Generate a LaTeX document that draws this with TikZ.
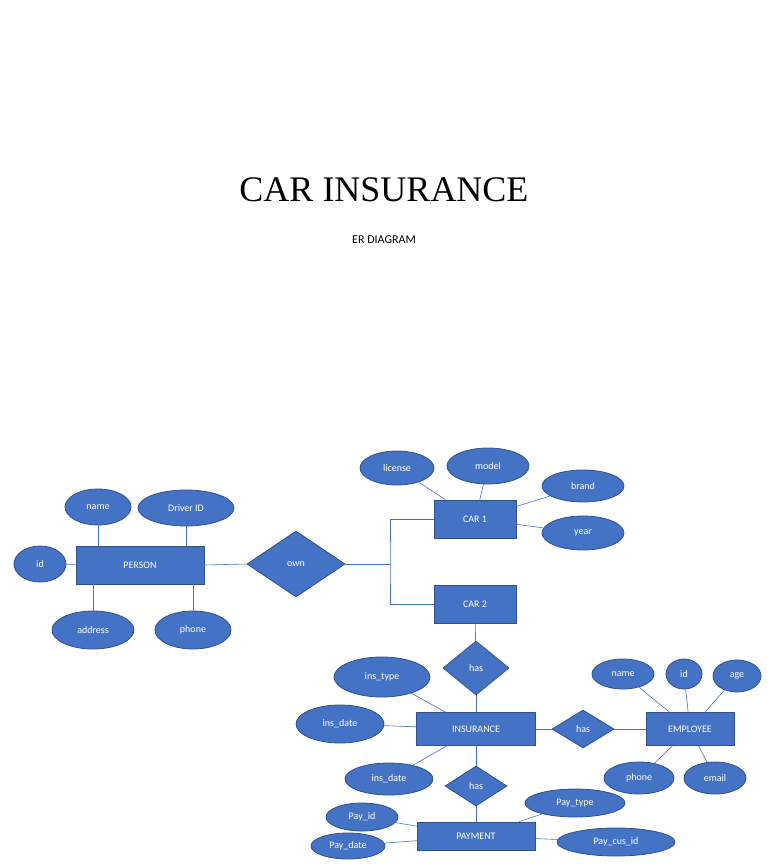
\documentclass[tikz,border=0pt]{standalone}
\usepackage{fontspec}
\setmainfont{Carlito}
\newfontfamily\titlefont{Liberation Serif}
\usetikzlibrary{shapes.geometric}
\definecolor{fillb}{HTML}{4472C4}
\definecolor{edgeb}{HTML}{2F528F}
\definecolor{lineb}{HTML}{4472C4}
\tikzset{
 ent/.style={rectangle,fill=fillb,draw=edgeb,line width=0.8pt,text=white,font=\fontsize{10}{12}\selectfont,inner sep=0pt},
 att/.style={ellipse,fill=fillb,draw=edgeb,line width=0.8pt,text=white,font=\fontsize{10}{12}\selectfont,inner sep=0pt},
 rel/.style={diamond,fill=fillb,draw=edgeb,line width=0.8pt,text=white,font=\fontsize{10}{12}\selectfont,inner sep=0pt,aspect=1.4},
 ln/.style={draw=lineb,line width=0.6pt}
}
\begin{document}
\begin{tikzpicture}[x=1pt,y=-1pt]
\useasboundingbox (0,0) rectangle (768,866);
\node[font=\titlefont\fontsize{36}{40}\selectfont] (title) at (384,190) {CAR INSURANCE};
\node[font=\fontsize{12}{14}\selectfont] (sub) at (384,240) {ER DIAGRAM};
% person
\node[ent,minimum width=128pt,minimum height=38pt] (person) at (140,565) {PERSON};
\node[att,minimum width=52pt,minimum height=36pt] (pid) at (40,564) {id};
\node[att,minimum width=66pt,minimum height=36pt] (pname) at (98,507) {name};
\node[att,minimum width=96pt,minimum height=36pt] (pdrv) at (186,508) {Driver ID};
\node[att,minimum width=82pt,minimum height=38pt] (paddr) at (93,630) {address};
\node[att,minimum width=76pt,minimum height=38pt] (pphone) at (193,630) {phone};
\node[rel,minimum width=98pt,minimum height=66pt] (own) at (296,564) {own};
% cars
\node[ent,minimum width=82pt,minimum height=38pt] (car1) at (475,519) {CAR 1};
\node[ent,minimum width=82pt,minimum height=38pt] (car2) at (475,604) {CAR 2};
\node[att,minimum width=74pt,minimum height=34pt] (lic) at (397,468) {license};
\node[att,minimum width=82pt,minimum height=36pt] (model) at (488,466) {model};
\node[att,minimum width=82pt,minimum height=32pt] (brand) at (583,486) {brand};
\node[att,minimum width=82pt,minimum height=34pt] (year) at (583,533) {year};
% insurance
\node[rel,minimum width=66pt,minimum height=54pt] (has1) at (476,668) {has};
\node[ent,minimum width=119pt,minimum height=33pt] (ins) at (476,729) {INSURANCE};
\node[att,minimum width=96pt,minimum height=40pt] (itype) at (382,677) {ins\_type};
\node[att,minimum width=88pt,minimum height=38pt] (idate1) at (340,724) {ins\_date};
\node[att,minimum width=88pt,minimum height=32pt] (idate2) at (389,779) {ins\_date};
\node[rel,minimum width=62pt,minimum height=38pt] (has2) at (583,729) {has};
\node[ent,minimum width=88pt,minimum height=33pt] (emp) at (690,729) {EMPLOYEE};
\node[att,minimum width=62pt,minimum height=30pt] (ename) at (623,674) {name};
\node[att,minimum width=36pt,minimum height=30pt] (eid) at (684,674) {id};
\node[att,minimum width=48pt,minimum height=32pt] (eage) at (737,676) {age};
\node[att,minimum width=70pt,minimum height=32pt] (ephone) at (639,778) {phone};
\node[att,minimum width=62pt,minimum height=32pt] (email) at (715,778) {email};
\node[rel,minimum width=62pt,minimum height=40pt] (has3) at (476,786) {has};
\node[ent,minimum width=118pt,minimum height=28pt] (pay) at (476,836) {PAYMENT};
\node[att,minimum width=72pt,minimum height=28pt] (payid) at (362,817) {Pay\_id};
\node[att,minimum width=74pt,minimum height=26pt] (paydate) at (348,846) {Pay\_date};
\node[att,minimum width=100pt,minimum height=28pt] (paytype) at (575,803) {Pay\_type};
\node[att,minimum width=118pt,minimum height=28pt] (paycus) at (616,842) {Pay\_cus\_id};
\coordinate (bj) at (390,564);
\begin{scope}[on background layer/.style={}]
\draw[ln] (pid) -- (person);
\draw[ln] (pname.south) -- (pname.south |- person.north);
\draw[ln] (pdrv.south) -- (pdrv.south |- person.north);
\draw[ln] (paddr.north) -- (paddr.north |- person.south);
\draw[ln] (pphone.north) -- (pphone.north |- person.south);
\draw[ln] (person.east) -- (own.west);
\draw[ln] (own.east) -- (bj);
\draw[ln] (car1.west) -| (bj) |- (car2.west);
\draw[ln] (lic) -- (car1);
\draw[ln] (model) -- (car1);
\draw[ln] (brand) -- (car1);
\draw[ln] (year) -- (car1);
\draw[ln] (car2) -- (has1);
\draw[ln] (has1) -- (ins);
\draw[ln] (itype) -- (ins);
\draw[ln] (idate1) -- (ins);
\draw[ln] (idate2) -- (ins);
\draw[ln] (ins) -- (has2);
\draw[ln] (has2) -- (emp);
\draw[ln] (ename) -- (emp);
\draw[ln] (eid) -- (emp);
\draw[ln] (eage) -- (emp);
\draw[ln] (ephone) -- (emp);
\draw[ln] (email) -- (emp);
\draw[ln] (ins) -- (has3);
\draw[ln] (has3) -- (pay);
\draw[ln] (payid) -- (pay);
\draw[ln] (paydate) -- (pay);
\draw[ln] (paytype) -- (pay);
\draw[ln] (paycus) -- (pay);
\end{scope}
\end{tikzpicture}
\end{document}
